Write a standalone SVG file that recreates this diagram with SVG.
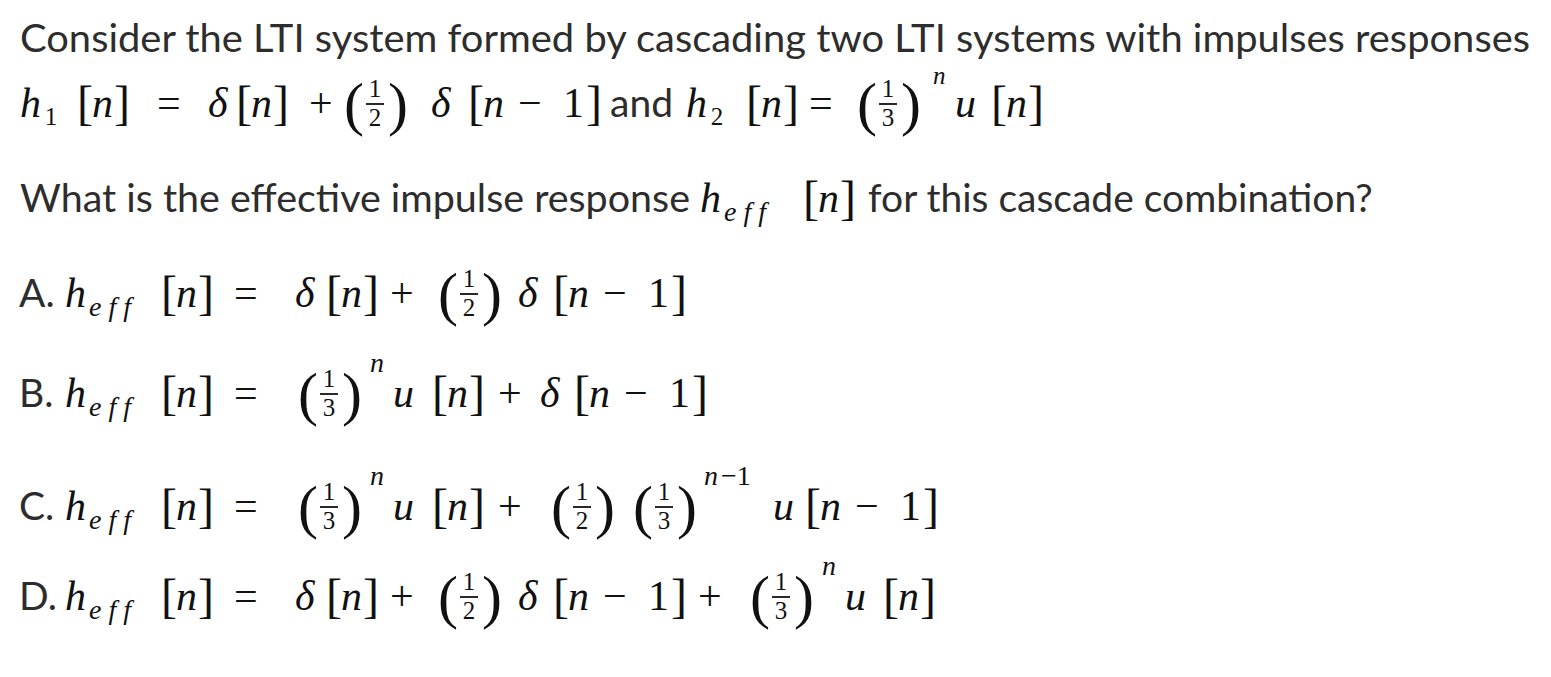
<svg xmlns="http://www.w3.org/2000/svg" width="1551" height="677" viewBox="0 0 1551 677">
<style>
.t{font-family:Lato,"Liberation Sans",sans-serif;font-size:39px;fill:#2d2d2d}
.m{font-family:"Liberation Serif",serif;font-style:italic;font-size:42px;fill:#111}
.r{font-family:"Liberation Serif",serif;font-size:42px;fill:#111}
.b{font-family:"Liberation Serif",serif;font-size:48px;fill:#111}
.s{font-family:"Liberation Serif",serif;font-size:25px;fill:#111;text-anchor:middle}
.si{font-family:"Liberation Serif",serif;font-style:italic;font-size:28px;fill:#111}
.e{font-family:"Liberation Serif",serif;font-style:italic;font-size:28px;fill:#111;letter-spacing:7px}
.p{font-family:"Liberation Serif",serif;font-size:60px;fill:#111}
.fl{stroke:#111;stroke-width:1.8}
</style>
<defs>
<g id="half"><text class="p" x="0" y="13">(</text><text class="s" x="31" y="-14">1</text><line class="fl" x1="22" y1="-7" x2="40" y2="-7"/><text class="s" x="31" y="15">2</text><text class="p" x="44" y="13">)</text></g>
<g id="third"><text class="p" x="0" y="13">(</text><text class="s" x="31" y="-14">1</text><line class="fl" x1="22" y1="-7" x2="40" y2="-7"/><text class="s" x="31" y="15">3</text><text class="p" x="44" y="13">)</text></g>
<g id="n"><text class="b" x="0" y="2">[</text><text class="m" x="15" y="0">n</text><text class="b" x="37" y="2">]</text></g>
<g id="n1"><text class="b" x="0" y="2">[</text><text class="m" x="15" y="0">n</text><text class="r" x="50" y="0">−</text><text class="r" x="95" y="0">1</text><text class="b" x="118" y="2">]</text></g>
<g id="heff"><text class="m" x="0" y="0">h</text><text class="e" x="24" y="9">eff</text></g>
</defs>
<rect width="1551" height="677" fill="#fff"/>
<text class="t" x="20" y="52" textLength="1510" lengthAdjust="spacingAndGlyphs">Consider the LTI system formed by cascading two LTI systems with impulses responses</text>

<g id="line2">
<text class="m" x="20" y="117">h</text><text class="s" x="51" y="125">1</text>
<use href="#n" x="77" y="117"/>
<text class="r" x="157" y="117">=</text>
<text class="m" x="208" y="117">δ</text><use href="#n" x="236" y="117"/>
<text class="r" x="309" y="117">+</text>
<use href="#half" x="344" y="111"/>
<text class="m" x="431" y="117">δ</text><use href="#n1" x="468" y="117"/>
<text class="t" x="610" y="117">and</text>
<text class="m" x="686" y="117">h</text><text class="s" x="717" y="125">2</text>
<use href="#n" x="746" y="117"/>
<text class="r" x="809" y="117">=</text>
<use href="#third" x="857" y="111"/>
<text class="si" x="933" y="84" style="font-size:25px">n</text>
<text class="m" x="955" y="117">u</text><use href="#n" x="991" y="117"/>
</g>

<text class="t" x="20" y="212" textLength="670" lengthAdjust="spacingAndGlyphs">What is the effective impulse response</text>
<use href="#heff" x="700" y="212"/>
<use href="#n" x="803" y="212"/>
<text class="t" x="868" y="212">for this cascade combination?</text>

<g id="optA">
<text class="t" x="19" y="307">A.</text>
<use href="#heff" x="65" y="307"/>
<use href="#n" x="161" y="307"/>
<text class="r" x="234" y="307">=</text>
<text class="m" x="295" y="307">δ</text><use href="#n" x="326" y="307"/>
<text class="r" x="390" y="307">+</text>
<use href="#half" x="438" y="301"/>
<text class="m" x="518" y="307">δ</text><use href="#n1" x="553" y="307"/>
</g>

<g id="optB">
<text class="t" x="19" y="407">B.</text>
<use href="#heff" x="65" y="407"/>
<use href="#n" x="161" y="407"/>
<text class="r" x="234" y="407">=</text>
<use href="#third" x="298" y="401"/>
<text class="si" x="370" y="372">n</text>
<text class="m" x="393" y="407">u</text><use href="#n" x="432" y="407"/>
<text class="r" x="498" y="407">+</text>
<text class="m" x="540" y="407">δ</text><use href="#n1" x="574" y="407"/>
</g>

<g id="optC">
<text class="t" x="19" y="520">C.</text>
<use href="#heff" x="65" y="520"/>
<use href="#n" x="161" y="520"/>
<text class="r" x="234" y="520">=</text>
<use href="#third" x="298" y="514"/>
<text class="si" x="370" y="485">n</text>
<text class="m" x="393" y="520">u</text><use href="#n" x="432" y="520"/>
<text class="r" x="498" y="520">+</text>
<use href="#half" x="551" y="514"/>
<use href="#third" x="633" y="514"/>
<text class="si" x="704" y="485">n</text><text class="si" x="721" y="485" style="font-style:normal">−1</text>
<text class="m" x="773" y="520">u</text><use href="#n1" x="805" y="520"/>
</g>

<g id="optD">
<text class="t" x="19" y="610">D.</text>
<use href="#heff" x="65" y="610"/>
<use href="#n" x="161" y="610"/>
<text class="r" x="234" y="610">=</text>
<text class="m" x="295" y="610">δ</text><use href="#n" x="326" y="610"/>
<text class="r" x="390" y="610">+</text>
<use href="#half" x="438" y="604"/>
<text class="m" x="518" y="610">δ</text><use href="#n1" x="553" y="610"/>
<text class="r" x="698" y="610">+</text>
<use href="#third" x="750" y="604"/>
<text class="si" x="822" y="575">n</text>
<text class="m" x="845" y="610">u</text><use href="#n" x="883" y="610"/>
</g>
</svg>
